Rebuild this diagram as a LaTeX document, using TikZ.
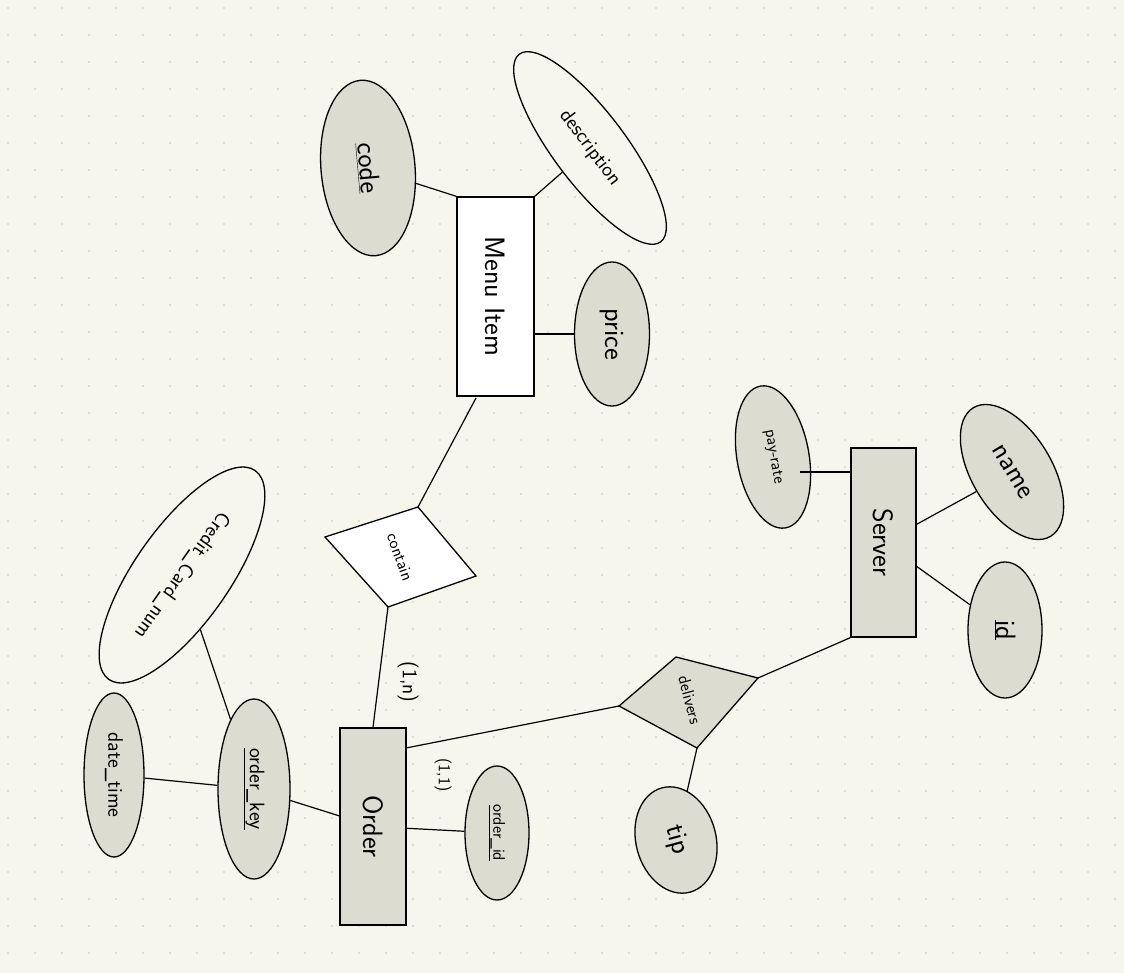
\documentclass[tikz,border=0pt]{standalone}
\usetikzlibrary{shapes.geometric}
\definecolor{paper}{HTML}{F6F6EC}
\definecolor{shade}{HTML}{DCDCD0}
\tikzset{
 ent/.style={draw, line width=1.3pt, inner sep=0pt, anchor=center},
 att/.style={draw, ellipse, line width=1.3pt, fill=shade, inner sep=0pt},
 attw/.style={att, fill=paper},
 lnk/.style={line width=1.2pt},
 big/.style={font=\fontsize{28}{30}\selectfont\sffamily},
 mid/.style={font=\fontsize{21}{23}\selectfont\sffamily},
 sml/.style={font=\fontsize{17}{19}\selectfont\sffamily},
}
\begin{document}
\begin{tikzpicture}[x={(1pt,0)}, y={(0,-1pt)}]
\fill[paper] (0,0) rectangle (1124,973);
\useasboundingbox (0,0) rectangle (1124,973);
\foreach \i in {0,...,41} \foreach \j in {0,...,36}
  \fill[gray!45] (\i*27+8, \j*27+8) circle (0.9pt);
% entities
\node[ent, fill=white, minimum width=77pt, minimum height=199pt] (menu) at (495.5,296.5) {};
\node[big, rotate=-90] at (menu) {Menu Item};
\node[ent, fill=shade, minimum width=66pt, minimum height=197pt] (order) at (373,826.5) {};
\node[big, rotate=-90] at (order) {Order};
\node[ent, fill=shade, minimum width=65pt, minimum height=189pt] (server) at (883.5,542.5) {};
\node[big, rotate=-90] at (server) {Server};
% attributes
\node[att, rotate=-85, minimum width=176pt, minimum height=94pt, big] (code) at (368,168) {\underline{code}};
\node[attw, rotate=-53, minimum width=235pt, minimum height=72pt, mid] (desc) at (590,148) {description};
\node[att, rotate=-90, minimum width=144pt, minimum height=75pt, big] (price) at (612,334) {price};
\node[att, rotate=-90, minimum width=180pt, minimum height=72pt, mid] (okey) at (254,789) {\underline{order\_key}};
\node[att, rotate=-90, minimum width=164pt, minimum height=60pt, mid] (dt) at (114,775) {date\_time};
\node[attw, rotate=-125, minimum width=255pt, minimum height=95pt, mid] (cc) at (182,575) {Credit\_Card\_num};
\node[att, rotate=-90, minimum width=134pt, minimum height=64pt, sml] (oid) at (497,833) {\underline{order\_id}};
\node[att, rotate=-75, minimum width=108pt, minimum height=80pt, big] (tip) at (676,840) {tip};
\node[att, rotate=-80, minimum width=144pt, minimum height=72pt, sml] (pay) at (773,457) {pay-rate};
\node[att, rotate=-59, minimum width=150pt, minimum height=80pt, big] (name) at (1012,472) {name};
\node[att, rotate=-90, minimum width=136pt, minimum height=74pt, big] (id) at (1005,630) {\underline{id}};
% relationships
\coordinate (c1) at (418,507); \coordinate (c2) at (476,576);
\coordinate (c3) at (388,607); \coordinate (c4) at (325,537);
\draw[line width=1.3pt, fill=white] (c1) -- (c2) -- (c3) -- (c4) -- cycle;
\node[sml, rotate=-70] (contain) at (400,557) {contain};
\coordinate (d1) at (676,657); \coordinate (d2) at (758,678);
\coordinate (d3) at (697,748); \coordinate (d4) at (619,706);
\draw[line width=1.3pt, fill=shade] (d1) -- (d2) -- (d3) -- (d4) -- cycle;
\node[sml, rotate=-75] (delivers) at (690,700) {delivers};
% connectors
\coordinate (mb) at (476,398);
\coordinate (oe) at (406,748);
\coordinate (pe) at (800,472);
\draw[lnk] (code) -- (menu.north west);
\draw[lnk] (desc) -- (menu.north east);
\draw[lnk] (price) -- (menu.east |- price);
\draw[lnk] (mb) -- (c1);
\draw[lnk] (c3) -- (order.north);
\draw[lnk] (okey) -- (dt);
\draw[lnk] (okey) -- (cc);
\draw[lnk] (okey) -- (order);
\draw[lnk] (oid) -- (order);
\draw[lnk] (oe) -- (d4);
\draw[lnk] (d2) -- (server.south west);
\draw[lnk] (d3) -- (tip);
\draw[lnk] (pe) -- (server.west |- pe);
\draw[lnk] (name) -- (server);
\draw[lnk] (id) -- (server);
% cardinalities
\node[mid, rotate=-90] (card1) at (408,682) {(1,n)};
\node[sml, rotate=-90] (card2) at (443,775) {(1,1)};
\end{tikzpicture}
\end{document}
